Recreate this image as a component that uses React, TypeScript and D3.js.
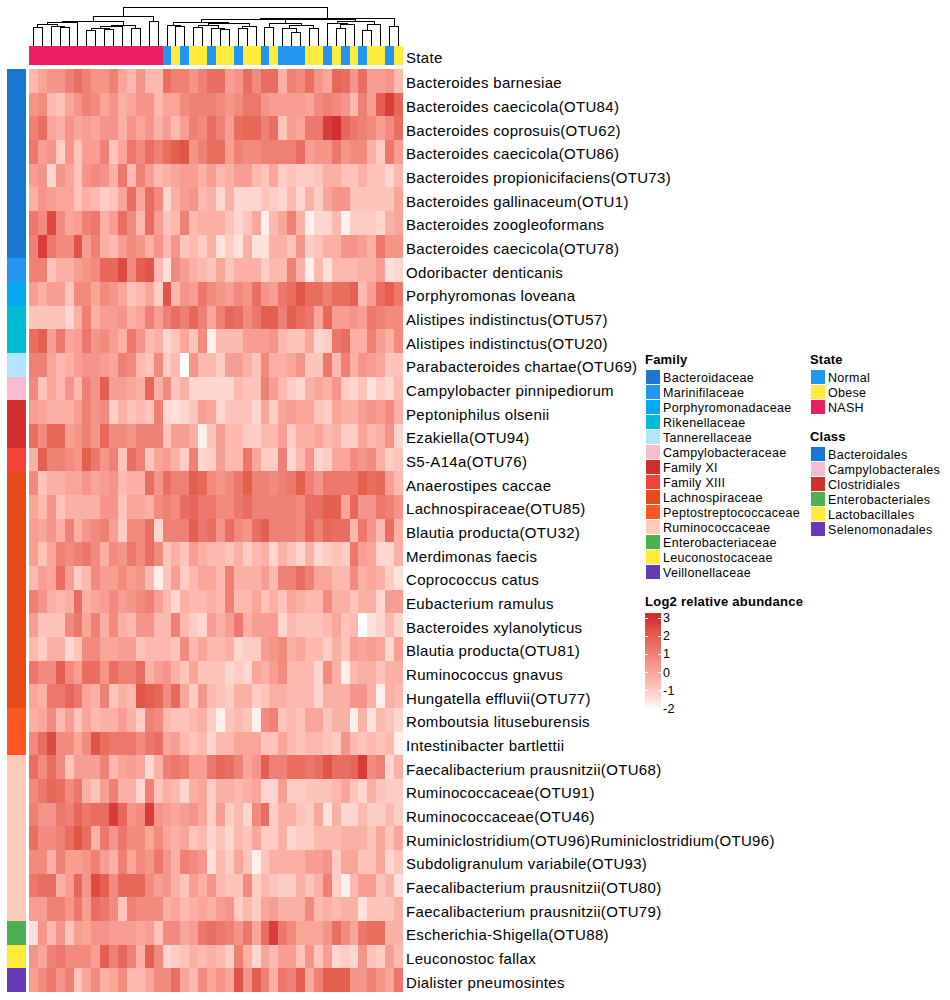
import React from "react";
import * as d3 from "d3";

// ---------- data ----------
const rowLabels = [
  "Bacteroides barnesiae","Bacteroides caecicola(OTU84)","Bacteroides coprosuis(OTU62)","Bacteroides caecicola(OTU86)",
  "Bacteroides propionicifaciens(OTU73)","Bacteroides gallinaceum(OTU1)","Bacteroides zoogleoformans","Bacteroides caecicola(OTU78)",
  "Odoribacter denticanis","Porphyromonas loveana","Alistipes indistinctus(OTU57)","Alistipes indistinctus(OTU20)",
  "Parabacteroides chartae(OTU69)","Campylobacter pinnipediorum","Peptoniphilus olsenii","Ezakiella(OTU94)","S5-A14a(OTU76)",
  "Anaerostipes caccae","Lachnospiraceae(OTU85)","Blautia producta(OTU32)","Merdimonas faecis","Coprococcus catus",
  "Eubacterium ramulus","Bacteroides xylanolyticus","Blautia producta(OTU81)","Ruminococcus gnavus","Hungatella effluvii(OTU77)",
  "Romboutsia lituseburensis","Intestinibacter bartlettii","Faecalibacterium prausnitzii(OTU68)","Ruminococcaceae(OTU91)",
  "Ruminococcaceae(OTU46)","Ruminiclostridium(OTU96)Ruminiclostridium(OTU96)","Subdoligranulum variabile(OTU93)",
  "Faecalibacterium prausnitzii(OTU80)","Faecalibacterium prausnitzii(OTU79)","Escherichia-Shigella(OTU88)","Leuconostoc fallax","Dialister pneumosintes",
];

// in half-log2 steps above -2 (log2 = step / 2 - 2)
const r01 = [3,4,5,5,6,7,6,5,5,6,4,3,5,3,3,7,6,6,5,6,7,7,4.5,5,7,5.5,7,7,3.5,6,5.5,7,5,4,7.5,7,5,7,4.5,4.5,5,3];
const r02 = [5,5.5,3,2.5,4,5,6,5.5,4,5,3.5,4,5,5,3,4,4,5.5,6,6,6,5.5,5,5.5,6.5,6.5,5,4.5,4.5,4.5,4.5,4,5.5,6,5.5,5,3,6,4.5,8,9.5,7.5];
const r03 = [6,7,4,3.5,5,4,4.5,4,5,5,3.5,5,4,5,3.5,4.5,3,4.5,6,5.5,7,6,4.5,7,7.5,7.5,6,7,2.5,4.5,4,6.5,6.5,9.5,10,7.5,6.5,6,5.5,4.5,5.5,7];
const r04 = [6.5,4.5,5,2,5,2.5,4.5,4.5,6,2.5,4,6.5,5.5,7,6,7,8,8.5,5,6,7,7,4.5,6,5.5,5.5,6,6,6,6,7,4.5,5,5,6.5,5,5.5,5.5,3.5,2,6.5,4.5];
const r05 = [4.5,5,1.5,5,4,2.5,5,5.5,5,3.5,6.5,3,6,4.5,3,3.5,4,4.5,4.5,3.5,4.5,3,3.5,4.5,4.5,3,2.5,4,2,2.5,2,2,2.5,3.5,3.5,2.5,2.5,3.5,2.5,2.5,1.5,3];
const r06 = [3.5,5,4.5,4,4,2.5,3.5,3,2,2.5,4,7,4,7,5.5,1.5,3.5,4.5,5,3,3.5,1.5,3.5,1.5,1.5,1.5,2.5,2,1.5,3,1.5,3.5,2,4,5,5,2.5,2.5,2.5,2.5,2.5,4];
const r07 = [6.5,5.5,9,5.5,4,4.5,6,6.5,3.5,4.5,7,5.5,3,7,4.5,2.5,3,6,3,3.5,3.5,3.5,2.5,1.5,2.5,4,0.5,3,4,6,3.5,0.5,1.5,1.5,3,0.5,2,2,2,1.5,3.5,4];
const r08 = [6,9.5,6.5,5.5,5.5,8.5,4.5,6,3.5,3,4.5,5.5,5,3.5,5,3,5,2.5,3,2,3.5,1,2,1,3.5,1,1,3.5,3.5,2.5,5,2,2.5,3.5,3.5,5,5,4.5,3.5,6.5,5,5];
const r09 = [6,6,2.5,3.5,3.5,4.5,5,5.5,7.5,7.5,9,5.5,8,8.5,3,1,5.5,4.5,3.5,3,2.5,4,2.5,3.5,3.5,3.5,2,3,3,6,3.5,0.5,3,1,3,3,3,3.5,3.5,4.5,1,1.5];
const r10 = [4.5,3.5,4.5,4.5,2.5,5.5,5.5,4,5.5,5,4,2.5,3,4,2,8.5,3,5,4.5,6.5,5.5,5,4.5,5.5,5,7,5,4.5,6.5,7,8.5,7,7,6,7,7,8,3,4.5,7,8,6.5];
const r11 = [2.5,2.5,2.5,2.5,1.5,3.5,6,3.5,4.5,4.5,5,3.5,4,6,4.5,6,7,6,7.5,6,4,6,7.5,7,5.5,6.5,8,8,6,8,7,6.5,4,7.5,4.5,4.5,5,4.5,6.5,6,5.5,5.5];
const r12 = [7,8,4.5,6.5,4,4.5,6.5,5,5.5,4.5,3.5,6.5,5,3,3.5,1.5,2.5,4,2.5,5.5,0.5,3,3,3,4.5,4.5,4.5,5,3,2.5,2.5,4,1.5,2,6.5,7,3.5,3.5,6,4.5,3.5,5.5];
const r13 = [6,6,4,3,3.5,4.5,5,5,4.5,4,6,5.5,3,2.5,5.5,2,3,0,5,3,3,2,4.5,4.5,3.5,2.5,5.5,3.5,3.5,4,5,2.5,2.5,6.5,3,6,3.5,5,4.5,4,2.5,2.5];
const r14 = [5.5,2.5,4,3,5,3,6,5,8,4.5,4.5,4,3.5,7.5,3.5,5.5,2.5,3.5,1.5,1.5,1.5,1.5,1.5,3,2.5,2.5,6,4.5,3,2,1.5,3.5,4,3.5,5,2,1.5,2.5,1,2,1.5,3];
const r15 = [4.5,4,3.5,3.5,3.5,4.5,6,5,5.5,2,3.5,2.5,3,2.5,6,1.5,1,1.5,2.5,4.5,4,1.5,2.5,2.5,2.5,1.5,4,2,4,4.5,4,4,2.5,2,4,3.5,3.5,4.5,5,4.5,5.5,3.5];
const r16 = [7,5.5,7.5,7.5,4.5,5,6,5,7.5,5.5,5.5,5,6,6,6,2.5,4.5,4.5,3.5,0.5,2.5,4.5,3,3,2,2,3,3,4.5,2,3.5,3.5,4,3,3.5,2,2,4,3,3.5,5,1.5];
const r17 = [3.5,8,6,6,5.5,5,8,6.5,5,6,2.5,7,6,2.5,4,4.5,3.5,2,6,1.5,2,4.5,3,3,6.5,4,2,2,6,1.5,3,5,1.5,2,4,4,5.5,5,5.5,3.5,2,2.5];
const r18 = [5.5,2.5,3.5,3.5,4,4,5,4,4.5,5,3,3.5,3.5,7,5,7,6,6,8,7.5,5.5,5,5.5,6.5,8,6,6,5.5,6,6.5,8,6,5,6.5,6.5,6.5,6.5,8,7,7.5,4.5,3];
const r19 = [4,3,5,2.5,3.5,3.5,3.5,3.5,5,5,2.5,4,4,3.5,5.5,6,5.5,7,7.5,6.5,6.5,5.5,5.5,6.5,7,6,6,6,6,6,5.5,7,7,8,8,4,7.5,5,5,6.5,6,5];
const r20 = [4.5,4,5,3.5,6,3.5,5,5.5,6,4.5,2,5.5,5.5,7,1.5,6,6,6,8,6.5,7,5,7,5.5,5,7,8,6,6,6,5.5,7.5,6,7.5,7,7,3,6.5,5,3,7,3.5];
const r21 = [4.5,2.5,4,6,5.5,6,6.5,5.5,3.5,5.5,5,6.5,5.5,7,5.5,2.5,3.5,2.5,4.5,3.5,3,3,2.5,3.5,2,3,3.5,1.5,3.5,2.5,1.5,3.5,1.5,2,2.5,2,6.5,4.5,4,1.5,1.5,3.5];
const r22 = [3,4.5,4,7,4.5,2,3,5.5,4.5,4.5,5.5,4.5,5,3,0.5,2.5,4.5,2,3,4,4,3,6,3.5,3.5,3.5,4.5,3,6,6,7,6,4,4,3,3,5.5,3.5,4,3.5,2,1];
const r23 = [6,5,3.5,3,3.5,7,3.5,4,4.5,5.5,4.5,5,5.5,6,4.5,3,1.5,3.5,3,3,3.5,3,6,3,3,4,2.5,3.5,2.5,4,3.5,3,3,5.5,3.5,3.5,2.5,3.5,3.5,1.5,4.5,4.5];
const r24 = [4.5,2.5,2.5,2.5,5.5,6.5,4,6,3.5,5.5,3.5,3,5,5,3,3,6,3,2,1.5,4.5,3.5,4.5,6.5,3.5,4.5,4.5,4.5,1.5,3,2.5,2.5,2.5,3,4,2.5,3,0,1,1.5,3,1.5];
const r25 = [3,2,3.5,3.5,1.5,2.5,5.5,5.5,4,4,4.5,4.5,2.5,3,3,3,2.5,5.5,3,4,3,3,3.5,1.5,2,2,4.5,5,5.5,3.5,4,3,3,2,3.5,2.5,4.5,4,4.5,4,1.5,4.5];
const r26 = [6.5,5.5,5.5,8,5.5,4.5,7,7,5,7,6,6,7,3.5,4.5,5,3.5,2.5,4,2.5,2.5,2.5,1.5,2,1.5,4,3.5,4.5,5.5,3,3,3,1.5,5.5,3.5,0.5,3,3.5,3.5,2.5,3.5,3.5];
const r27 = [4,3.5,6.5,6.5,7.5,6.5,4,3.5,6,2.5,3.5,3,8.5,8,7.5,5.5,7.5,4,2,5,3,2.5,2,3.5,3.5,2,2.5,3.5,3.5,3,3,3,1.5,3.5,3.5,3.5,5,5,3.5,0.5,3.5,3];
const r28 = [3.5,4,5.5,3,4.5,2.5,4,3,3.5,3.5,4.5,3.5,2,6,5.5,3,2.5,2.5,3,3.5,2,0.5,2.5,3,2.5,0.5,5.5,6,2.5,3,2.5,4,4,2.5,3.5,3.5,0.5,3.5,1,3,2.5,1.5];
const r29 = [5.5,7,9,5.5,5.5,4,5.5,8.5,7,6.5,6.5,6.5,5.5,6.5,7,4,4.5,3,2.5,3,1.5,3,3,4,4,4,2.5,2.5,4,3,2.5,3,3,2.5,2,5,3,2.5,3,2.5,3,0.5];
const r30 = [7,5.5,7,5.5,2.5,4.5,4.5,4.5,6,3,4,4.5,4,1.5,3.5,6,6.5,6,4.5,4.5,6.5,7.5,7,6,4,5,8,6,6,7,7,6.5,7,8.5,7,7,7.5,9.5,5.5,6,1.5,3.5];
const r31 = [5.5,6.5,7.5,7,5.5,6.5,3.5,2.5,4.5,6,3.5,3.5,1.5,6,2.5,3.5,3,1.5,3.5,4,2,3.5,3.5,3,3.5,4,1.5,1.5,4.5,2,2,2.5,2.5,2.5,3,4,2.5,1.5,3.5,2.5,2,2];
const r32 = [6,5,5,6.5,6,7.5,6.5,7,7,9.5,7.5,5,5.5,9.5,5,4.5,4,4.5,5,4,2,4.5,2,3,1.5,5.5,7,2,3.5,3.5,2.5,2,4,1,3.5,1.5,1.5,3,2,2,3,2];
const r33 = [7,5.5,5.5,6,7,8.5,7,3.5,6.5,5,6.5,5.5,5.5,4,5.5,4,3.5,4,2.5,3,1.5,2.5,1.5,3,2.5,4,2,2,3.5,1.5,2,2,3,3,3,3.5,3.5,3.5,2.5,4,2.5,4];
const r34 = [5.5,5.5,3.5,6,4.5,4.5,5,6,4.5,3.5,6,4,5.5,5,6.5,5,3.5,6,5.5,5,1,3,2,4,2.5,0.5,2.5,3.5,3.5,3.5,3.5,4.5,4.5,5,2,4,4,2.5,2.5,4,1.5,2.5];
const r35 = [6.5,7,7,3.5,4.5,7.5,5,9,8,5.5,7.5,7.5,7.5,5.5,4.5,5,3.5,2.5,4.5,3.5,5,3,2.5,2.5,5.5,2,3,2.5,2,2,3.5,2.5,3.5,6,2,0.5,3,4.5,4.5,2.5,3.5,1];
const r36 = [4.5,4.5,6,6,5,6.5,4.5,7,6.5,5.5,2.5,6,5.5,5.5,5.5,3.5,4,3,3.5,4,3.5,4.5,5,2,3,2,4,4.5,3.5,3.5,3.5,5.5,3,3.5,3,3.5,3.5,1,2.5,2.5,2.5,3.5];
const r37 = [1,5,3,5,2.5,4.5,4,5,5,4.5,4.5,4.5,4,4.5,2.5,5.5,5.5,4,4.5,6.5,7,6.5,6,5,6.5,4,7,9.5,6.5,5.5,4,4,4,5,7,5.5,4,6.5,7,7,3.5,3.5];
const r38 = [5,4,6,6.5,5.5,5.5,5.5,4.5,8,6,7.5,6,3.5,8,5.5,1.5,2,2.5,3.5,3,3.5,3,2,6,3.5,1.5,4,3,4.5,4.5,2.5,5,2.5,4.5,1.5,2,1.5,5,2.5,2,4.5,3];
const r39 = [4.5,5.5,6.5,5,6,2.5,4,5.5,3.5,4,5.5,3,3,4,5.5,5.5,7,4,3,5.5,4,5,4,8.5,5,8,6,3.5,6.5,6,8,4,6,8,8,8,5,5,6,5,4,6.5];
const heatRows = [r01,r02,r03,r04,r05,r06,r07,r08,r09,r10,r11,r12,r13,r14,r15,r16,r17,r18,r19,r20,r21,r22,r23,r24,r25,r26,r27,r28,r29,r30,r31,r32,r33,r34,r35,r36,r37,r38,r39];
const stepToLog2 = (s: number) => s / 2 - 2;

const rampColours = ["#ffffff","#ffe0da","#ffccc4","#fdb9ae","#f9a699","#f59488","#ef8074","#e96e60","#e55f50","#dd4a3e","#d32f2f"];
const rampValues = [-2,-1.5,-1,-0.5,0,0.5,1,1.5,2,2.5,3];

const familyNames = ["Bacteroidaceae","Marinifilaceae","Porphyromonadaceae","Rikenellaceae","Tannerellaceae","Campylobacteraceae","Family XI","Family XIII","Lachnospiraceae","Peptostreptococcaceae","Ruminococcaceae","Enterobacteriaceae","Leuconostocaceae","Veillonellaceae"];
const familyColours = ["#1976d2","#2196f3","#03a9f4","#00bcd4","#b3e5fc","#f8bbd0","#d32f2f","#f44336","#e64a19","#ff5722","#ffccbc","#4caf50","#ffeb3b","#673ab7"];
const familyRowCounts = [8,1,1,2,1,1,2,1,10,2,7,1,1,1];

const stateNames = ["Normal","Obese","NASH"];
const stateColours = ["#2196f3","#ffeb3b","#e91e63"];
const columnStates = [2,2,2,2,2,2,2,2,2,2,2,2,2,2,2,0,1,0,1,1,0,1,1,0,1,1,0,1,0,0,0,1,1,0,1,0,1,0,1,1,0,1];

const classNames = ["Bacteroidales","Campylobacterales","Clostridiales","Enterobacteriales","Lactobacillales","Selenomonadales"];
const classColours = ["#1976d2","#f8bbd0","#d32f2f","#4caf50","#ffeb3b","#673ab7"];

const colourTicks = [3,2,1,0,-1,-2];
const colourTop = 3.28;

// dendrogram: [merge height, left, right]; a number is a column index
type Tree = number | [number, Tree, Tree];
const leftCluster: Tree = [88,
  [73,
    [71, [65, [56,0,1], [58,2,[56,3,4]]], 5],
    [62, [59, [53,[47,6,7],[50,8,9]], 10], [53,11,12]]],
  [74,13,14]];
const rightCluster: Tree = [83,
  [80,
    [70,
      [62, 15, [58,16,17]],
      [68, [62, [56,18,19], [53,20,[50,21,22]]], [59,[53,23,24],25]]],
    [78,
      [67, [56,26,27], [61, [53,28,[41,29,30]], [53,31,32]]],
      [74, [68,33,[65,[53,34,35],36]], [65,[46,37,38],39]]]],
  [58,40,41]];
const columnTree: Tree = [116, leftCluster, rightCluster];

// ---------- layout ----------
const heatL = 29, heatR = 403, heatT = 69, heatB = 992;
const colourOf = d3.scaleLinear<string>().domain(rampValues).range(rampColours).clamp(true);
const xBand = d3.scaleBand<number>().domain(d3.range(columnStates.length)).range([heatL, heatR]);
const yBand = d3.scaleBand<number>().domain(d3.range(heatRows.length)).range([heatT, heatB]);
const heightScale = d3.scaleLinear().domain([0, 116]).range([46, 7]);
const barScale = d3.scaleLinear().domain([-2, 3]).range([709, 618]);

const FONT = "'Liberation Sans', Arial, sans-serif";

function treePath(): string {
  const p = d3.path();
  const walk = (t: Tree): [number, number] => {
    if (typeof t === "number") return [xBand(t)! + xBand.bandwidth() / 2, heightScale(0)];
    const [h, a, b] = t;
    const [xa, ya] = walk(a);
    const [xb, yb] = walk(b);
    const y = heightScale(h);
    p.moveTo(xa, ya);
    p.lineTo(xa, y);
    p.lineTo(xb, y);
    p.lineTo(xb, yb);
    return [(xa + xb) / 2, y];
  };
  walk(columnTree);
  return p.toString();
}

function Legend({ title, names, colours, x, y }: { title: string; names: string[]; colours: string[]; x: number; y: number }) {
  return (
    <g>
      <text x={x} y={y} fontFamily={FONT} fontSize={13} letterSpacing={0.2} fontWeight="bold" fill="#000">{title}</text>
      {names.map((n, i) => (
        <g key={n}>
          <rect x={x + 1} y={y + 6 + i * 15} width={14} height={14} fill={colours[i]} />
          <text x={x + 18} y={y + 17.5 + i * 15} fontFamily={FONT} fontSize={12.5} letterSpacing={0.3} fill="#000">{n}</text>
        </g>
      ))}
    </g>
  );
}

export default function App() {
  const familyRows: number[] = [];
  familyRowCounts.forEach((c, f) => d3.range(c).forEach(() => familyRows.push(f)));
  const bar = d3.range(-2, colourTop, 0.05);
  return (
    <svg width={950} height={1000} style={{ position: "absolute", left: 0, top: 0, background: "#fff" }}>
      <path d={treePath()} fill="none" stroke="#000" strokeWidth={1} shapeRendering="crispEdges" />
      <g shapeRendering="crispEdges">
        {columnStates.map((s, i) => (
          <rect key={i} x={xBand(i)} y={46} width={xBand.bandwidth()} height={19} fill={stateColours[s]} />
        ))}
        {familyRows.map((f, i) => (
          <rect key={i} x={7} y={yBand(i)} width={19} height={yBand.bandwidth()} fill={familyColours[f]} />
        ))}
        {heatRows.map((row, r) =>
          row.map((v, c) => (
            <rect key={r + "-" + c} x={xBand(c)} y={yBand(r)} width={xBand.bandwidth()} height={yBand.bandwidth()} fill={colourOf(stepToLog2(v))} />
          ))
        )}
      </g>
      <text x={406} y={63} fontFamily={FONT} fontSize={15} letterSpacing={0.32} fill="#000">State</text>
      {rowLabels.map((l, i) => (
        <text key={i} x={406} y={yBand(i)! + yBand.bandwidth() / 2 + 7.6} fontFamily={FONT} fontSize={15} letterSpacing={0.32} fill="#000">{l}</text>
      ))}
      <Legend title="Family" names={familyNames} colours={familyColours} x={645} y={364} />
      <Legend title="State" names={stateNames} colours={stateColours} x={810} y={364} />
      <Legend title="Class" names={classNames} colours={classColours} x={810} y={441} />
      <text x={645} y={606} fontFamily={FONT} fontSize={13} letterSpacing={0.25} fontWeight="bold" fill="#000">Log2 relative abundance</text>
      <g shapeRendering="crispEdges">
        {bar.map((v) => (
          <rect key={v} x={645} y={barScale(v + 0.05)} width={16} height={barScale(v) - barScale(v + 0.05) + 0.5} fill={colourOf(v)} />
        ))}
        {colourTicks.slice(0, 5).map((t) => (
          <g key={t}>
            <line x1={645} x2={648} y1={barScale(t)} y2={barScale(t)} stroke="#fff" />
            <line x1={658} x2={661} y1={barScale(t)} y2={barScale(t)} stroke="#fff" />
          </g>
        ))}
      </g>
      {colourTicks.map((t) => (
        <text key={t} x={663} y={barScale(t) + 4} fontFamily={FONT} fontSize={12.5} letterSpacing={0.3} fill="#000">{t}</text>
      ))}
    </svg>
  );
}
